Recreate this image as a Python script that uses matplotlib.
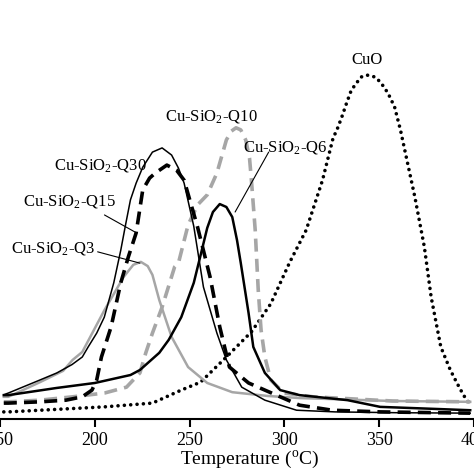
import matplotlib
matplotlib.use("Agg")
import matplotlib.pyplot as plt

plt.rcParams["font.family"] = ["Liberation Serif", "DejaVu Serif"]
plt.rcParams["mathtext.fontset"] = "custom"
plt.rcParams["mathtext.rm"] = "Liberation Serif"
plt.rcParams["mathtext.it"] = "Liberation Serif:italic"

# H2-TPR profiles (temperature in C, signal in a.u.)
t_q30 = [152, 154.4, 171, 180, 188, 193.4, 196.5, 201, 205, 210, 213.7, 216.2, 218.8, 221.8, 225.3,
         230.4, 235.5, 240.5, 244.1, 247.1, 252.2, 257.3, 264.4, 269.4, 277.5, 289.7, 306.4, 326.7,
         360, 398]
s_q30 = [5.8, 6.2, 9.3, 11.0, 13.0, 14.8, 17.2, 20.5, 24.3, 32.5, 40.3, 46.3, 52.3, 56.3, 60.1,
         63.7, 64.7, 63.0, 59.9, 56.3, 46.0, 31.5, 20.5, 14.1, 7.6, 4.5, 2.1, 1.7,
         1.5, 1.4]

t_q15 = [152, 154.4, 171.1, 184.8, 193.4, 198.5, 201.0, 203.5, 208.6, 213.7, 217.7, 221.8, 225.3,
         228.9, 231.9, 238.0, 243.1, 247.1, 254.2, 260.8, 265.9, 271.0, 281.1, 297.8, 308, 325.2,
         350.5, 398]
s_q15 = [3.8, 3.8, 4.1, 4.5, 5.3, 6.9, 9.3, 14.8, 22.0, 32.5, 38.7, 44.4, 54.7,
         57.5, 58.7, 60.6, 59.4, 57.0, 45.8, 33.9, 22.0, 12.4, 8.6, 5.3, 3.3, 2.1,
         1.7, 1.4]

t_q10 = [152, 154.4, 171.1, 188.3, 205.1, 216.7, 223.8, 226.9, 230.4, 235.5, 242.1, 244.1, 249.2,
         254.2, 259.3, 264.4, 269.4, 272.0, 274.5, 277.0, 279.6, 281.6, 282.6, 284.6, 286.2, 287.7,
         289.7, 292.8, 299.8, 315.1, 357.1, 398]
s_q10 = [4.1, 4.1, 4.5, 5.3, 6.2, 7.6, 11.0, 15.8, 20.5, 26.7, 36.3, 37.2, 46.3,
         51.1, 53.5, 58.7, 66.6, 68.7, 69.5, 69.0, 66.6, 62.3, 57.0, 45.1, 30.8, 21.2,
         14.8, 9.3, 6.2, 5.3, 4.3, 4.1]

t_q6 = [152, 154.4, 179.7, 200.0, 218.8, 223.8, 234.0, 239.0, 245.6, 252.2, 255.8, 259.3, 262.3,
        265.9, 269.4, 272.5, 275.0, 277.0, 281.1, 283.6, 289.7, 297.8, 308, 333.3, 350.5, 398]
s_q6 = [5.7, 5.7, 7.4, 8.6, 10.5, 11.7, 15.8, 18.9, 24.3, 32.5, 39.1, 45.6, 49.4,
        51.3, 50.6, 48.2, 42.7, 37.2, 25.3, 17.2, 11.0, 6.9, 5.7, 4.5, 2.9, 2.1]

t_q3 = [152, 154.4, 171.1, 183.3, 188.3, 193.4, 205.1, 215.2, 220.3, 224.3, 227.9, 230.4, 234.0,
        240.5, 249.2, 259.3, 272.5, 291.2, 308, 357.1, 398]
s_q3 = [5.3, 5.3, 8.8, 11.5, 14.1, 16.0, 26.0, 33.9, 36.8, 37.5, 36.5, 34.4, 28.4,
        19.6, 12.4, 8.6, 6.4, 5.5, 5.0, 4.3, 4.1]

t_cuo = [152, 154.4, 205.1, 230.4, 245.6, 255.8, 269.4, 282.6, 292.8, 302.9, 311.5, 320.1, 325.7,
         327.7, 330.3, 332.8, 335.3, 338.4, 340.4, 343.4, 348.0, 351.0, 354.6, 358.1, 361.2, 368.8,
         373.8, 377.4, 382.5, 387.5, 391.0, 394.6, 398]
s_cuo = [1.7, 1.7, 2.9, 3.8, 6.9, 8.8, 14.8, 20.8, 27.5, 37.5, 45.1, 57.0, 67.1,
         69.0, 72.1, 75.4, 78.5, 80.4, 81.6, 82.1, 81.6, 80.2, 77.8, 74.5, 69.0, 53.0,
         41.1, 29.1, 17.2, 11.7, 8.6, 5.6, 3.5]

xticks = [150, 200, 250, 300, 350, 400]

fig = plt.figure(figsize=(4.74, 4.74), dpi=100)
ax = fig.add_axes([0, 0.116, 1, 0.884])

grey = "#a6a6a6"
ax.plot(t_cuo, s_cuo, color="black", lw=2.6, linestyle=(0, (0.01, 1.75)), dash_capstyle="round")
ax.plot(t_q3, s_q3, color=grey, lw=1.8)
ax.plot(t_q10, s_q10, color=grey, lw=2.6, linestyle=(0, (3.6, 2.0)))
ax.plot(t_q6, s_q6, color="black", lw=1.8)
ax.plot(t_q15, s_q15, color="black", lw=2.6, linestyle=(0, (3.6, 2.0)))
ax.plot(t_q30, s_q30, color="black", lw=1.1)

ax.set_xlim(154.4, 394.6)
ax.set_ylim(0, 100)

# labels and leader lines
fs = 12
ax.text(343.4, 85.7, "CuO", fontsize=fs, ha="center", va="center")
ax.text(261.3, 72.1, r"Cu-SiO$_\mathregular{2}$-Q10", fontsize=fs, ha="center", va="center")
ax.text(300.4, 64.7, r"Cu-SiO$_\mathregular{2}$-Q6", fontsize=fs, ha="center", va="center")
ax.text(203.0, 60.6, r"Cu-SiO$_\mathregular{2}$-Q30", fontsize=fs, ha="center", va="center")
ax.text(186.8, 51.8, r"Cu-SiO$_\mathregular{2}$-Q15", fontsize=fs, ha="center", va="center")
ax.text(178.2, 40.8, r"Cu-SiO$_\mathregular{2}$-Q3", fontsize=fs, ha="center", va="center")

leader = dict(arrowstyle="-", lw=0.8, color="black", shrinkA=0, shrinkB=0)
ax.annotate("", xy=(274.0, 49.4), xytext=(291.7, 63.7), arrowprops=leader)
ax.annotate("", xy=(221.3, 44.6), xytext=(205.1, 48.7), arrowprops=leader)
ax.annotate("", xy=(223.8, 37.2), xytext=(201.5, 39.9), arrowprops=leader)

for side in ["top", "left", "right"]:
    ax.spines[side].set_visible(False)
ax.spines["bottom"].set_linewidth(1.5)
ax.set_yticks([])
ax.set_xticks(xticks)
ax.tick_params(axis="x", direction="out", length=6, width=1.5, labelsize=13, pad=3)
ax.set_xlabel(r"Temperature ($^\mathregular{o}$C)", fontsize=14)
ax.xaxis.set_label_coords(0.527, -0.072)

fig.savefig("out.png", dpi=100)
